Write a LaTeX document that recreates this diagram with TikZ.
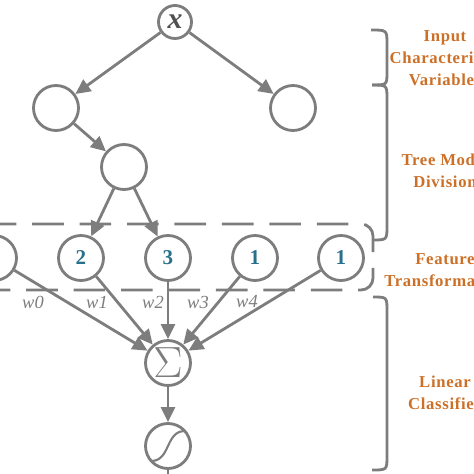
\documentclass[tikz,border=0pt]{standalone}
\usepackage{fontspec}
\setmainfont{Liberation Serif}
\usetikzlibrary{arrows.meta}
\definecolor{linegray}{RGB}{125,125,125}
\definecolor{darkgray}{RGB}{80,80,80}
\definecolor{labelorange}{RGB}{204,112,40}
\definecolor{leafblue}{RGB}{40,112,140}
\tikzset{
    nd/.style={circle, draw=linegray, line width=1.6pt, minimum size=0.9cm, inner sep=0pt},
    arr/.style={draw=linegray, line width=1.6pt, -{Triangle[length=0.3cm,width=0.28cm]}},
    brace/.style={draw=linegray, line width=1.6pt},
    grp/.style={text=labelorange, align=center, font=\fontsize{9.5}{12.5}\selectfont\bfseries\addfontfeature{LetterSpace=4}},
    wlab/.style={text=linegray, font=\fontsize{10.5}{12}\selectfont\itshape}
}

\begin{document}
\begin{tikzpicture}[x=0.02cm, y=-0.02cm]
        \clip (0,0) rectangle (474,474);

        % tree part
        \node[nd, minimum size=0.66cm, text=darkgray] (x) at (175,22) {\fontsize{17}{18}\selectfont\textbf{\textit{x}}};
        \node[nd] (l) at (56,108) {};
        \node[nd] (r) at (293,108) {};
        \node[nd] (m) at (124,167) {};

        % leaves
        \foreach \i/\n/\lab in {0/-6/{}, 1/81/2, 2/168/3, 3/255/1, 4/341/1} {
            \node[nd, text=leafblue, font=\fontsize{12}{13}\selectfont\bfseries] (f\i) at (\n,258) {\lab};
        }

        \draw[arr] (x) -- (l);
        \draw[arr] (x) -- (r);
        \draw[arr] (l) -- (m);
        \draw[arr] (m) -- (f1);
        \draw[arr] (m) -- (f2);

        \draw[linegray, line width=1.6pt, dash pattern=on 18pt off 9pt, rounded corners=0.24cm]
            (-20,224) rectangle (373,290);

        % linear part
        \node[nd, text=linegray] (sig) at (168,363) {\fontsize{24}{26}\selectfont$\Sigma$};
        \node[nd] (sg) at (168,446) {};
        \draw[linegray, line width=1.2pt, shift={(sg)}] (-17,15) .. controls (3,15) and (-3,-15) .. (17,-15);
        \coordinate (out) at (168,480);

        \foreach \i/\n in {0/33, 1/97, 2/153, 3/198, 4/247} {
            \node[wlab] (w\i) at (\n,302) {w\i};
            \draw[arr] (f\i) -- (sig);
        }
        \draw[arr] (sig) -- (sg);
        \draw[linegray, line width=1.6pt] (sg) -- (out);

        % braces
        \draw[brace] (371,30) .. controls (387,30) .. (387,44) -- (387,72) .. controls (387,85) .. (372,85);
        \draw[brace] (372,85) .. controls (387,85) .. (387,99) -- (387,226) .. controls (387,240) .. (372,240);
        \draw[brace] (373,297) .. controls (387,297) .. (387,311) -- (387,456) .. controls (387,470) .. (372,470);

        \node[grp] (inp) at (445,58) {Input\\Characteristic\\Variables};
        \node[grp] (tree) at (445,171) {Tree Model\\Division};
        \node[grp] (feat) at (445,270) {Feature\\Transformation};
        \node[grp] (lin) at (445,393) {Linear\\Classifier};
    \end{tikzpicture}
\end{document}
